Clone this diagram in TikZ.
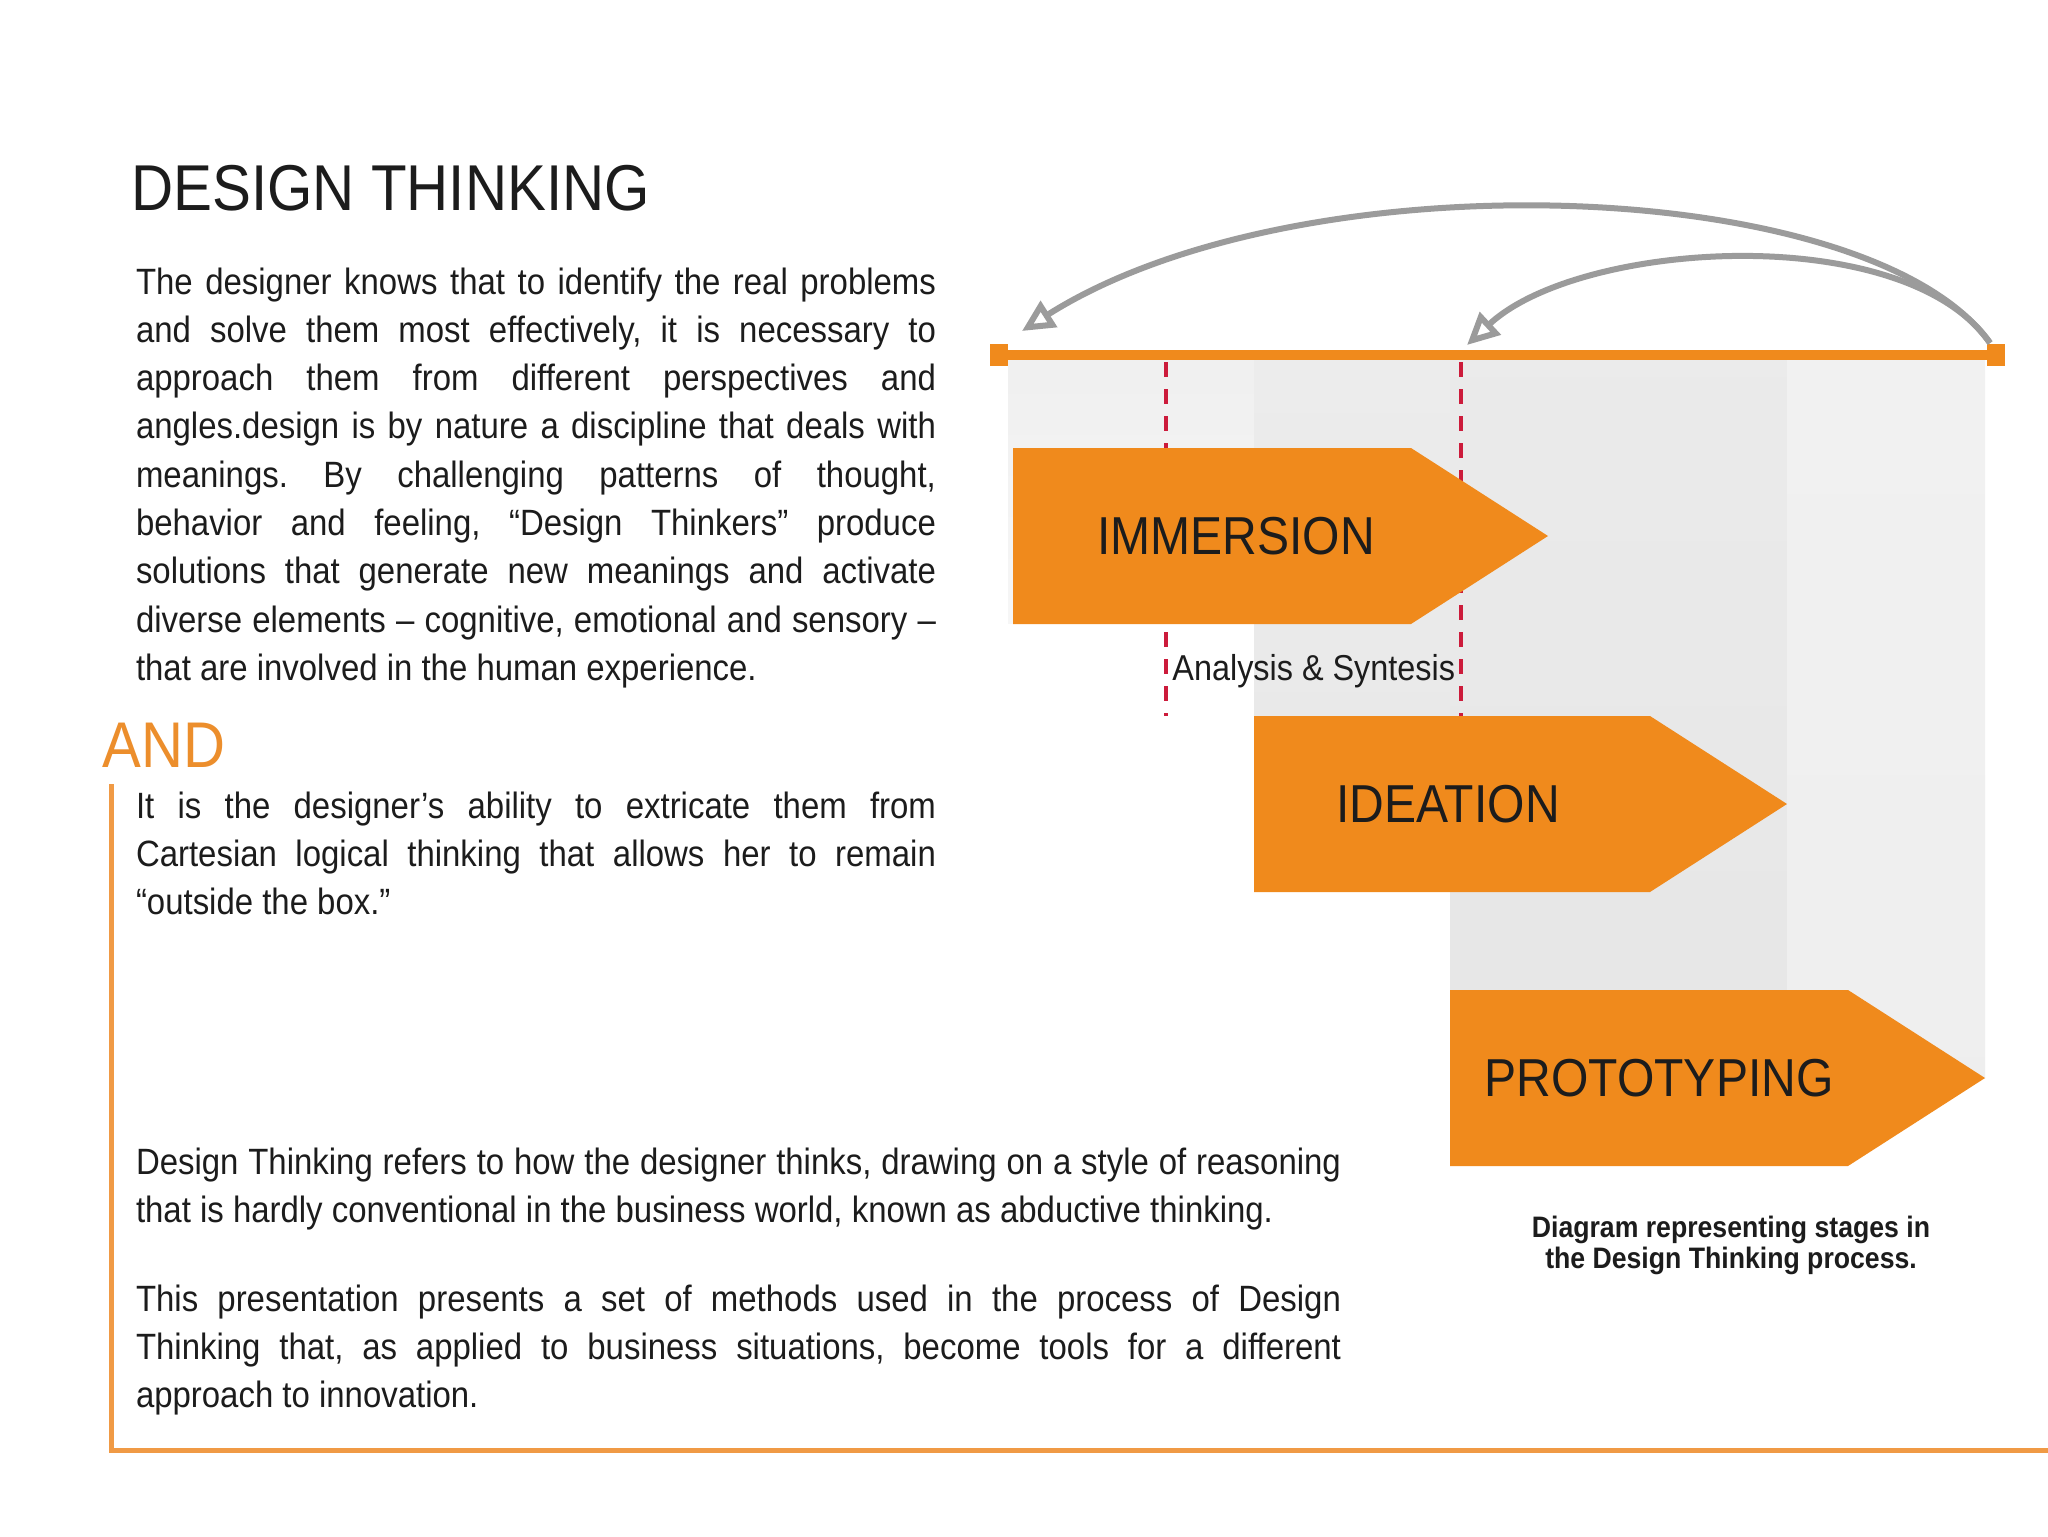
\documentclass[tikz,border=0pt]{standalone}
\usepackage{fontspec}
\setmainfont{Liberation Sans}[FakeStretch=0.9]
\usetikzlibrary{arrows.meta}
\definecolor{dtorange}{HTML}{F08A1C}
\definecolor{andorange}{HTML}{EC8E2C}
\definecolor{lineorange}{HTML}{F09A45}
\definecolor{dashred}{HTML}{CC1B3B}
\definecolor{arcgray}{HTML}{9B9B9B}
\definecolor{txt}{HTML}{1C1C1C}
\newlength\pwa \setlength\pwa{400pt}
\newlength\pwb \setlength\pwb{602.5pt}
\newcommand\jla[1]{\makebox[\pwa][s]{#1}}
\newcommand\jlb[1]{\makebox[\pwb][s]{#1}}
\frenchspacing
\tikzset{
  body/.style={anchor=base west, inner sep=0pt, outer sep=0pt, align=left,
    font=\fontsize{18.3}{24.15}\selectfont, text=txt},
  stagelabel/.style={inner sep=0pt, font=\fontsize{26.7}{30}\selectfont, text=txt},
  stagebox/.style={fill=dtorange},
  loop/.style={draw=arcgray, line width=3pt, -{Triangle[open, length=16pt, width=15pt]}},
  redline/.style={draw=dashred, line width=2pt, dash pattern=on 7.5pt off 6pt},
}
\begin{document}
\begin{tikzpicture}[x=0.5pt, y=-0.5pt]
\useasboundingbox (0,0) rectangle (2048,1536);
\fill[white] (0,0) rectangle (2048,1536);

% grey cloudy panels
\shade[top color=gray!12, bottom color=gray!7] (1008,360) rectangle (1254,623);
\shade[top color=gray!15, bottom color=gray!17] (1254,360) rectangle (1450,716);
\shade[top color=gray!16, bottom color=gray!19] (1450,360) rectangle (1787,990);
\shade[top color=gray!11, bottom color=gray!13] (1787,360) rectangle (1985,1078);

% dashed red lines
\coordinate (da1) at (1166,362);
\coordinate (db1) at (1166,716);
\coordinate (da2) at (1461,362);
\coordinate (db2) at (1461,716);
\draw[redline] (da1) -- (db1);
\draw[redline] (da2) -- (db2);

% top bar
\coordinate (barL) at (1000,355);
\coordinate (barR) at (1995,355);
\draw[dtorange, line width=5pt] (barL) -- (barR);
\fill[dtorange] (990,344) rectangle (1008,366);
\fill[dtorange] (1987,344) rectangle (2005,366);

% stage chevrons
\fill[stagebox] (1013,448) -- ++(398,0) -- ++(137,88) -- ++(-137,88) -- ++(-398,0) -- cycle;
\fill[stagebox] (1254,716) -- ++(396,0) -- ++(137,88) -- ++(-137,88) -- ++(-396,0) -- cycle;
\fill[stagebox] (1450,990) -- ++(398,0) -- ++(137,88) -- ++(-137,88) -- ++(-398,0) -- cycle;
\node[stagelabel] (imm) at (1236,536) {IMMERSION};
\node[stagelabel] (ide) at (1448,804) {IDEATION};
\node[stagelabel] (pro) at (1659,1078) {PROTOTYPING};

\node[anchor=base west, inner sep=0pt, font=\fontsize{18}{21}\selectfont, text=txt] (ana) at (1172,680) {Analysis \& Syntesis};

% loop arrows
\coordinate (arcS) at (1990,343);
\coordinate (tipA) at (1022,331);
\coordinate (tipB) at (1467,345);
\draw[loop] (arcS) .. controls (1870,175) and (1300,155) .. (tipA);
\draw[loop] (arcS) .. controls (1905,220) and (1580,240) .. (tipB);

% caption (anchor = baseline of last line)
\node[anchor=base, inner sep=0pt, align=center, font=\bfseries\fontsize{14.8}{15.5}\selectfont, text=txt] (cap) at (1731,1268)
  {Diagram representing stages in\\the Design Thinking process.};

% left column
\node[anchor=base west, inner sep=0pt, font=\fontsize{32.4}{36}\selectfont, text=txt] (title) at (131,210) {DESIGN THINKING};

% body nodes are anchored at the baseline of their last line
\node[body] (p1) at (136,680.4) {%
\jla{The designer knows that to identify the real problems}\\
\jla{and solve them most effectively, it is necessary to}\\
\jla{approach them from different perspectives and}\\
\jla{angles.design is by nature a discipline that deals with}\\
\jla{meanings. By challenging patterns of thought,}\\
\jla{behavior and feeling, “Design Thinkers” produce}\\
\jla{solutions that generate new meanings and activate}\\
\jla{diverse elements – cognitive, emotional and sensory –}\\
that are involved in the human experience.};

\node[anchor=base west, inner sep=0pt, font=\fontsize{32.3}{36}\selectfont, text=andorange] (and) at (102,767) {AND};

\coordinate (Ltop) at (111,784);
\coordinate (Lcorner) at (111,1450);
\coordinate (Lend) at (2048,1450);
\draw[lineorange, line width=2.5pt] (Ltop) -- (Lcorner) -- (Lend);

\node[body] (p2) at (136,914.6) {%
\jla{It is the designer's ability to extricate them from}\\
\jla{Cartesian logical thinking that allows her to remain}\\
“outside the box.”};

\node[body] (p3) at (136,1222.3) {%
\jlb{Design Thinking refers to how the designer thinks, drawing on a style of reasoning}\\
that is hardly conventional in the business world, known as abductive thinking.};

\node[body] (p4) at (136,1407.6) {%
\jlb{This presentation presents a set of methods used in the process of Design}\\
\jlb{Thinking that, as applied to business situations, become tools for a different}\\
approach to innovation.};
\end{tikzpicture}
\end{document}
